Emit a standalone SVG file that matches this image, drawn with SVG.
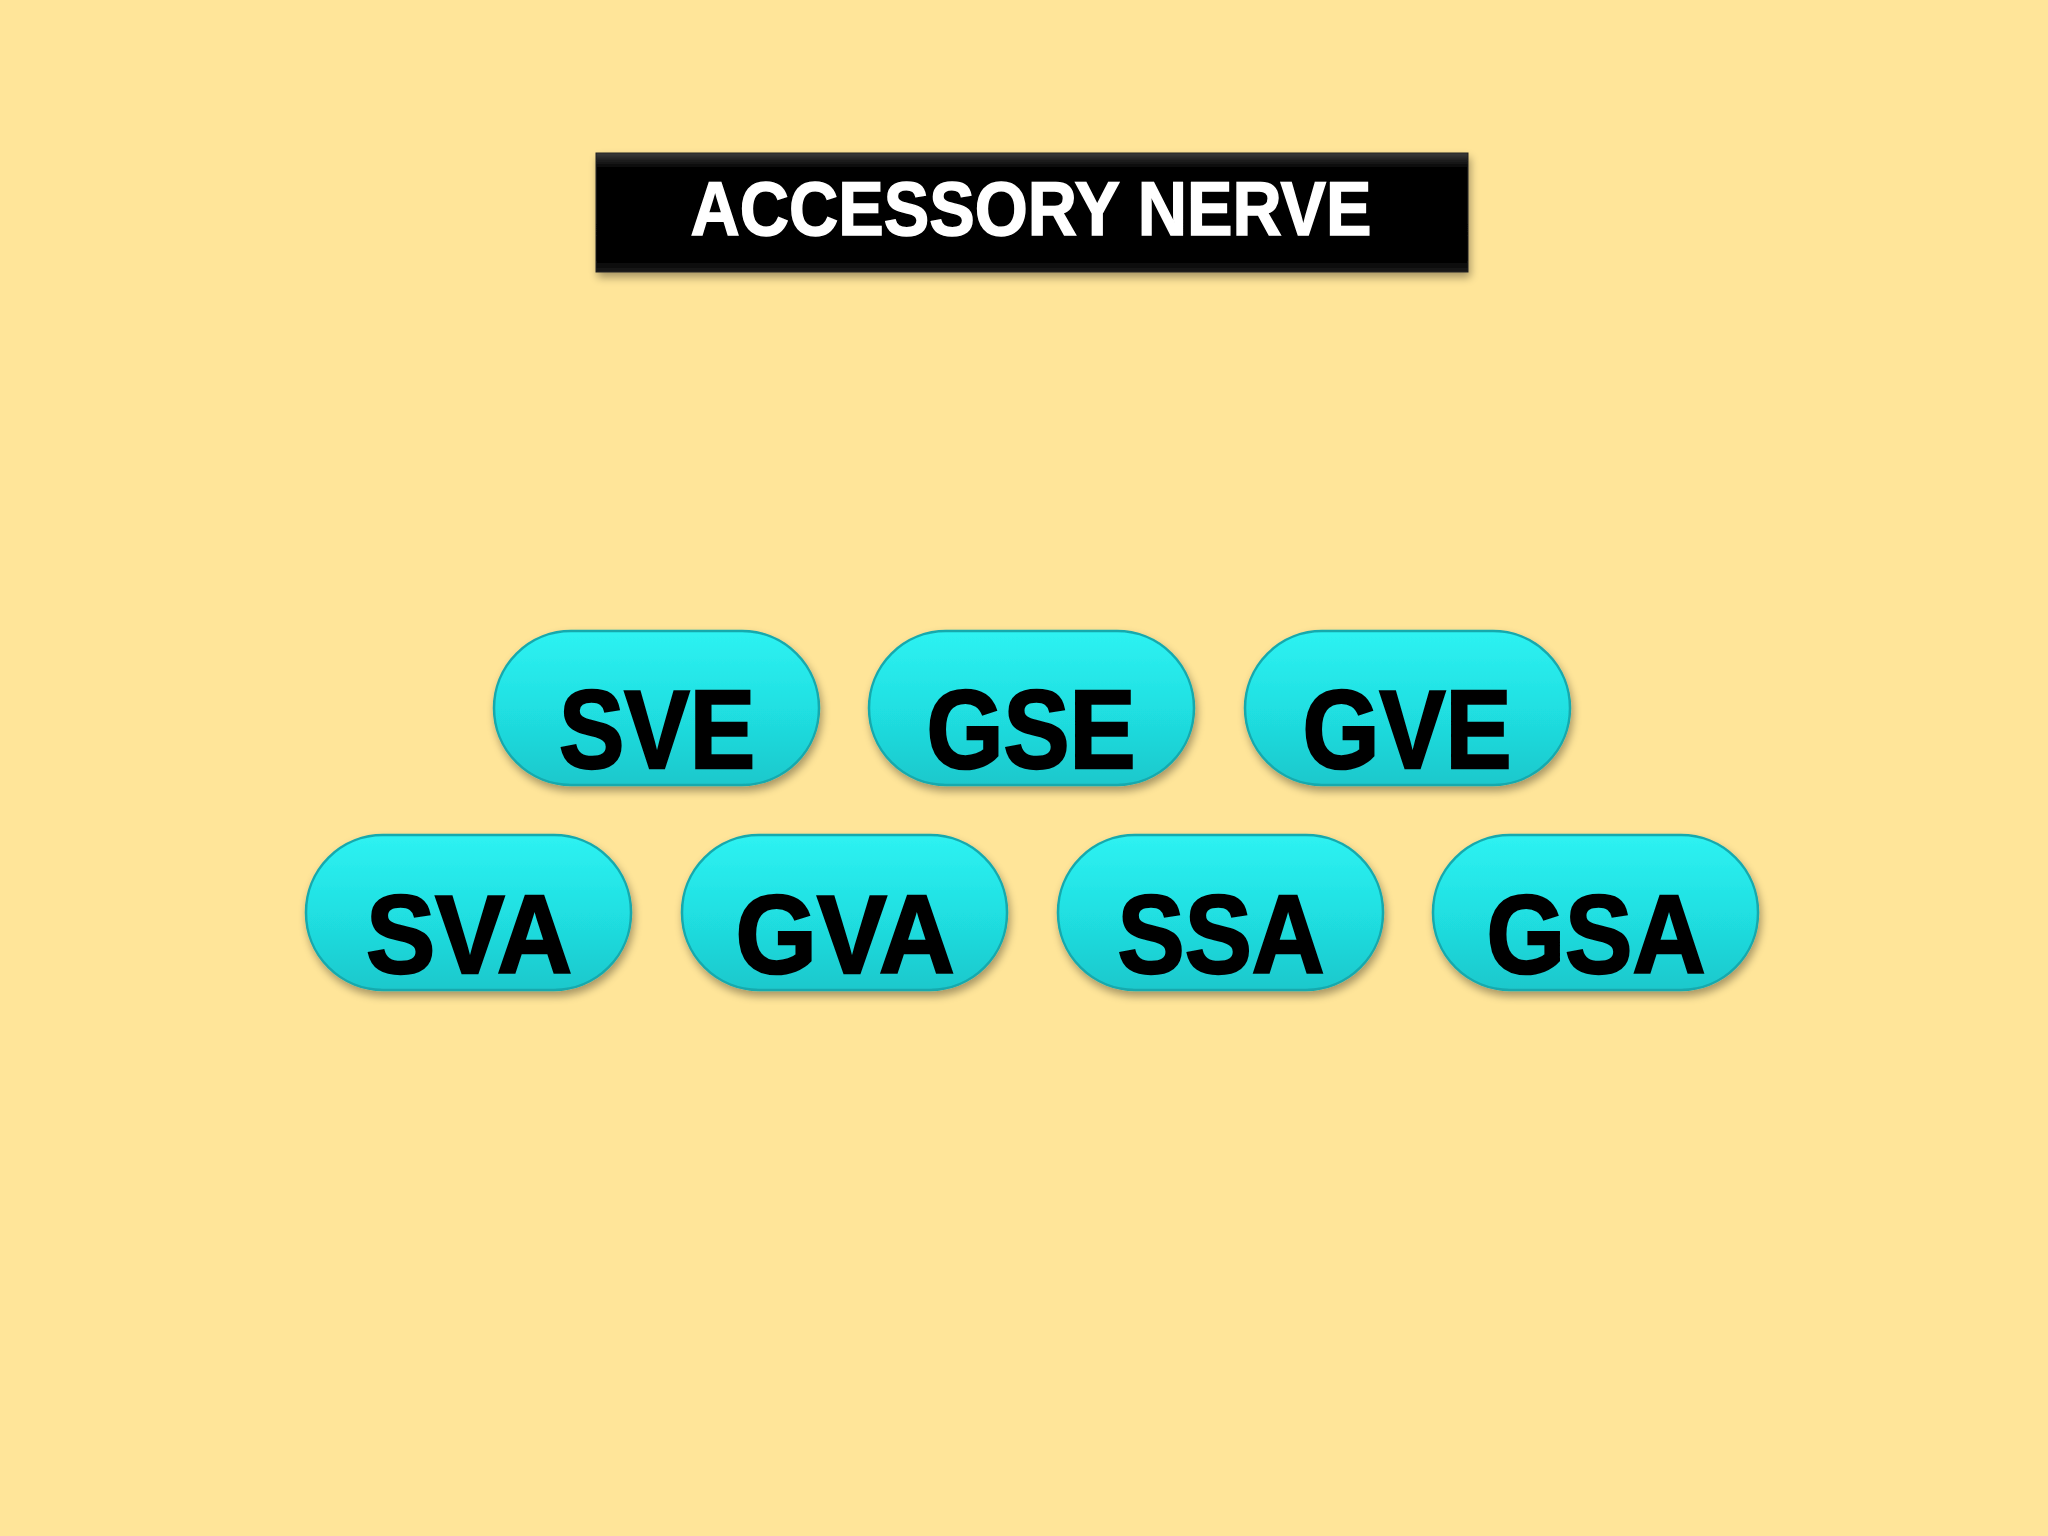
<svg xmlns="http://www.w3.org/2000/svg" width="2048" height="1536" viewBox="0 0 2048 1536">
<defs>
<linearGradient id="pillFill" x1="0" y1="0" x2="0" y2="1">
<stop offset="0" stop-color="#2ef2f2"/>
<stop offset="0.5" stop-color="#20e0e2"/>
<stop offset="1" stop-color="#1cc8cc"/>
</linearGradient>
<linearGradient id="titleFill" x1="0" y1="0" x2="0" y2="1">
<stop offset="0" stop-color="#3a3a3a"/>
<stop offset="0.12" stop-color="#050505"/>
<stop offset="0.9" stop-color="#000000"/>
<stop offset="1" stop-color="#1a1a1a"/>
</linearGradient>
<filter id="shadow" x="-10%" y="-20%" width="120%" height="150%">
<feGaussianBlur in="SourceAlpha" stdDeviation="4"/>
<feOffset dx="2" dy="5" result="b"/>
<feComponentTransfer><feFuncA type="linear" slope="0.35"/></feComponentTransfer>
<feMerge><feMergeNode/><feMergeNode in="SourceGraphic"/></feMerge>
</filter>
</defs>
<style>
.pill{fill:url(#pillFill);stroke:#17a9ad;stroke-width:2.5}
.lbl{font-family:"Liberation Sans",Arial,sans-serif;font-weight:bold;font-size:112px;fill:#000;stroke:#000;stroke-width:2.5;text-anchor:middle}
.title{font-family:"Liberation Sans",Arial,sans-serif;font-weight:bold;font-size:76px;fill:#fff;stroke:#fff;stroke-width:1.5;text-anchor:middle}
</style>
<rect x="0" y="0" width="2048" height="1536" fill="#ffe599"/>
<g id="title" filter="url(#shadow)">
<rect x="596" y="153" width="872" height="119" fill="url(#titleFill)" stroke="#222" stroke-width="1"/>
<text class="title" x="1031" y="235" textLength="681" lengthAdjust="spacingAndGlyphs">ACCESSORY NERVE</text>
</g>
<g id="node-sve" filter="url(#shadow)">
<rect class="pill" x="494" y="631" width="325" height="154" rx="77"/>
<text class="lbl" x="657" y="768" textLength="196" lengthAdjust="spacingAndGlyphs">SVE</text>
</g>
<g id="node-gse" filter="url(#shadow)">
<rect class="pill" x="869" y="631" width="325" height="154" rx="77"/>
<text class="lbl" x="1031" y="768" textLength="209" lengthAdjust="spacingAndGlyphs">GSE</text>
</g>
<g id="node-gve" filter="url(#shadow)">
<rect class="pill" x="1245" y="631" width="325" height="154" rx="77"/>
<text class="lbl" x="1407" y="768" textLength="209" lengthAdjust="spacingAndGlyphs">GVE</text>
</g>
<g id="node-sva" filter="url(#shadow)">
<rect class="pill" x="306" y="835" width="325" height="155" rx="77"/>
<text class="lbl" x="469" y="973" textLength="206" lengthAdjust="spacingAndGlyphs">SVA</text>
</g>
<g id="node-gva" filter="url(#shadow)">
<rect class="pill" x="682" y="835" width="325" height="155" rx="77"/>
<text class="lbl" x="845" y="973" textLength="219" lengthAdjust="spacingAndGlyphs">GVA</text>
</g>
<g id="node-ssa" filter="url(#shadow)">
<rect class="pill" x="1058" y="835" width="325" height="155" rx="77"/>
<text class="lbl" x="1221" y="973" textLength="207" lengthAdjust="spacingAndGlyphs">SSA</text>
</g>
<g id="node-gsa" filter="url(#shadow)">
<rect class="pill" x="1433" y="835" width="325" height="155" rx="77"/>
<text class="lbl" x="1596" y="973" textLength="219" lengthAdjust="spacingAndGlyphs">GSA</text>
</g>
<g id="connectors"/>
</svg>
